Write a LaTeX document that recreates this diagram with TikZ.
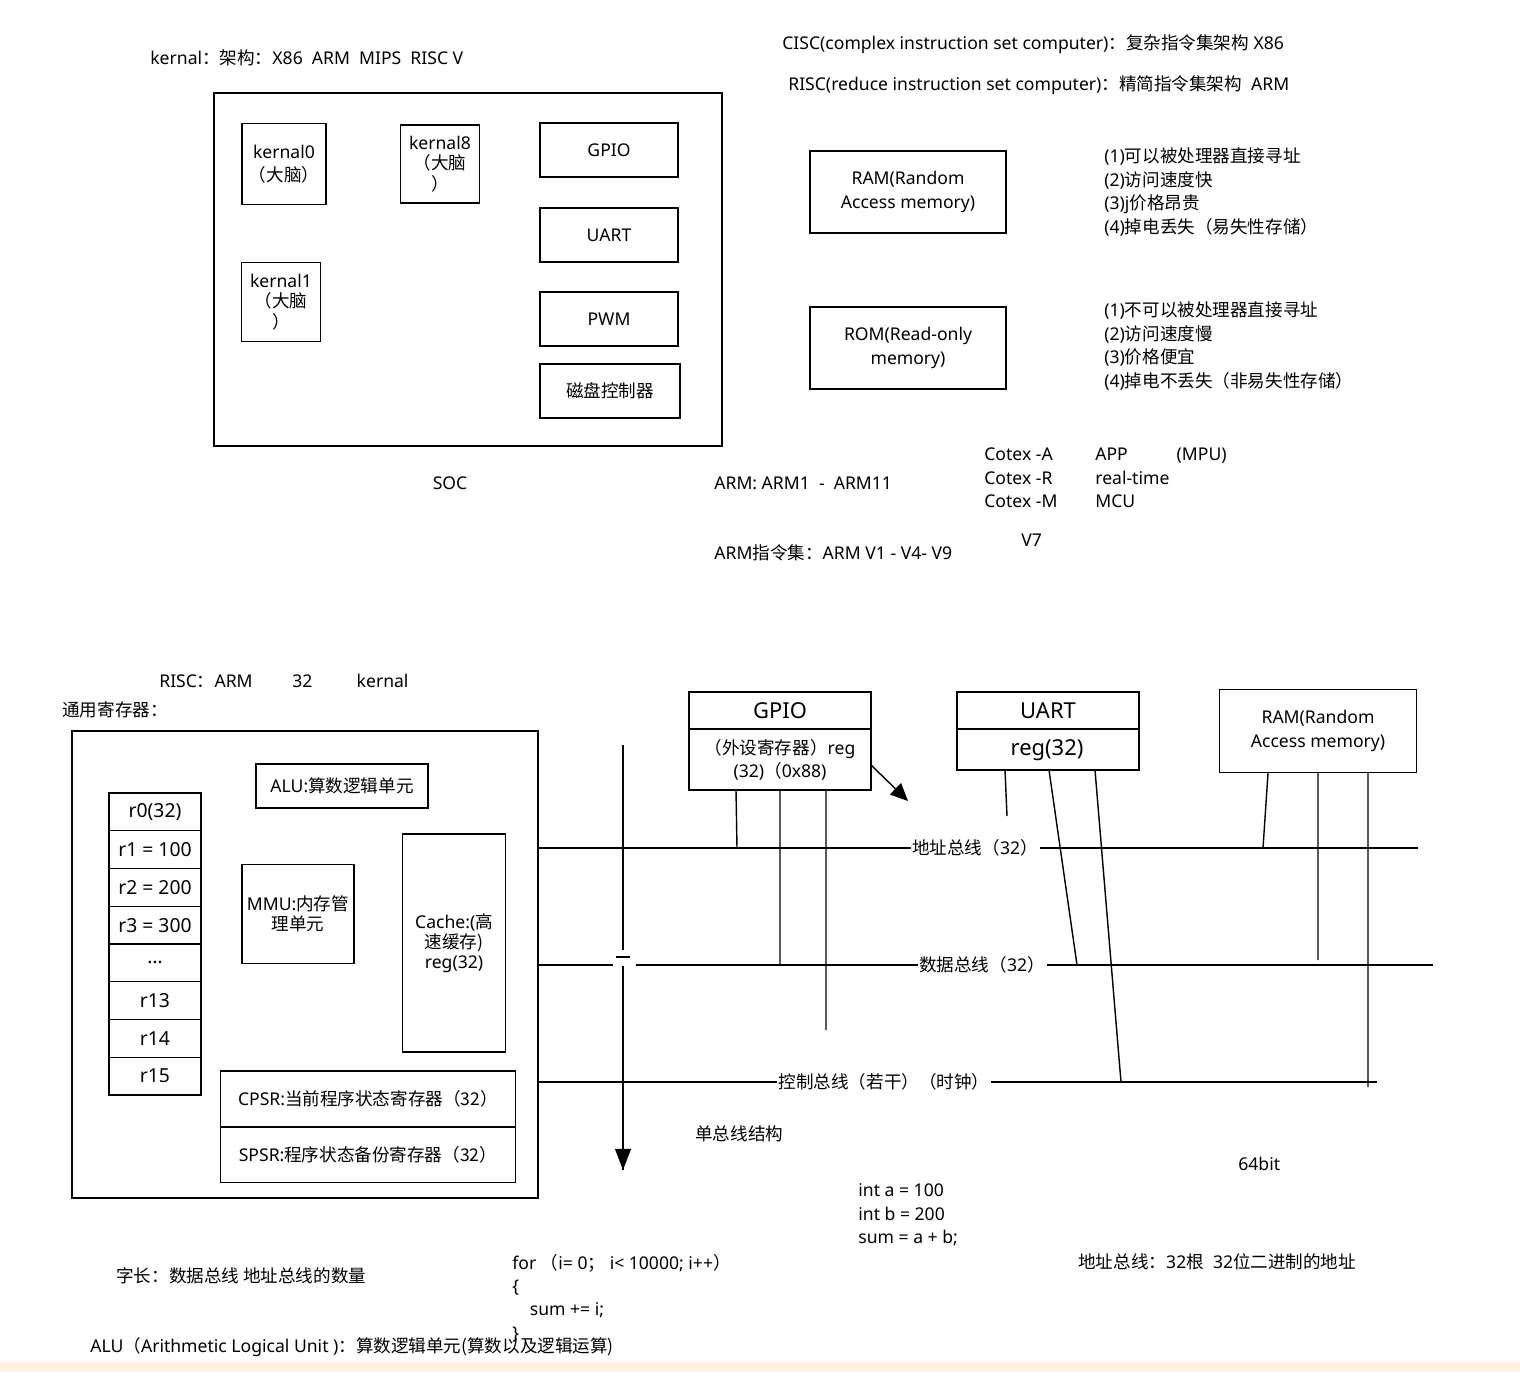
\documentclass[tikz,border=0pt]{standalone}
\usepackage{fontspec}
\setmainfont{Noto Sans}
\newfontfamily\cjk{Noto Sans CJK SC}
\usetikzlibrary{arrows.meta}
\tikzset{
  box/.style={draw=black, thick, align=center, inner sep=1pt},
  txt/.style={anchor=west, inner sep=0pt},
  bus/.style={fill=white, inner sep=1pt},
  wire/.style={black, thick}
}
\begin{document}
\begin{tikzpicture}[x=0.02cm, y=-0.02cm, font=\fontsize{10}{13.3}\selectfont]
        \useasboundingbox (0,0) rectangle (1520,1372);
        \fill[orange!12] (0,1362) rectangle (1520,1372);
        % top part
        \node[txt] at (150,58) {kernal{\cjk ：架构：}X86 \ ARM \ MIPS \ RISC V};
        \node[txt] at (782,44) {CISC(complex instruction set computer){\cjk ：复杂指令集架构} X86};
        \node[txt] at (788,85) {RISC(reduce instruction set computer){\cjk ：精简指令集架构} \ ARM};
        \draw[wire] (214,93) rectangle (722,446);
        \node[box, minimum width=84*0.02cm, minimum height=81*0.02cm] (k0) at (284,164) {kernal0\\{\cjk （大脑）}};
        \node[box, minimum width=79*0.02cm, minimum height=78*0.02cm, text width=74*0.02cm, font=\fontsize{10}{11.5}\selectfont] (k8) at (440,164) {kernal8\\{\cjk （大脑}\\{\cjk ）}};
        \node[box, minimum width=79*0.02cm, minimum height=79*0.02cm, text width=74*0.02cm, font=\fontsize{10}{11.5}\selectfont] (k1) at (281,302) {kernal1\\{\cjk （大脑}\\{\cjk ）}};
        \node[box, minimum width=138*0.02cm, minimum height=54*0.02cm] (gpio) at (609,150) {GPIO};
        \node[box, minimum width=138*0.02cm, minimum height=54*0.02cm] (uart) at (609,235) {UART};
        \node[box, minimum width=138*0.02cm, minimum height=54*0.02cm] (pwm) at (609,319) {PWM};
        \node[box, minimum width=140*0.02cm, minimum height=54*0.02cm] (disk) at (610,391) {\cjk 磁盘控制器};
        \node at (450,483) {SOC};
        \node[box, minimum width=196*0.02cm, minimum height=82*0.02cm] (ram) at (908,192) {RAM(Random\\Access memory)};
        \node[box, minimum width=196*0.02cm, minimum height=82*0.02cm] (rom) at (908,348) {ROM(Read-only\\memory)};
        \node[txt, align=left] at (1104,192) {(1){\cjk 可以被处理器直接寻址}\\(2){\cjk 访问速度快}\\(3)j{\cjk 价格昂贵}\\(4){\cjk 掉电丢失（易失性存储）}};
        \node[txt, align=left] at (1104,346) {(1){\cjk 不可以被处理器直接寻址}\\(2){\cjk 访问速度慢}\\(3){\cjk 价格便宜}\\(4){\cjk 掉电不丢失（非易失性存储）}};
        \node[txt] at (714,483) {ARM: ARM1 \ - \ ARM11};
        \node[txt, align=left] at (984,478) {Cotex -A\\Cotex -R\\Cotex -M};
        \node[txt, align=left] at (1095,478) {APP \qquad\ \ (MPU)\\real-time\\MCU};
        \node[txt] at (1021,540) {V7};
        \node[txt] at (714,553) {ARM{\cjk 指令集：}ARM V1 - V4- V9};
        % bottom part
        \node[txt] at (159,681) {RISC{\cjk ：}ARM \qquad 32 \qquad\ kernal};
        \node[txt] at (62,710) {\cjk 通用寄存器：};
        \draw[wire] (72,731) rectangle (538,1198);
        \foreach \lbl [count=\i from 0] in {{r0(32)}, {r1 = 100}, {r2 = 200}, {r3 = 300}, {…}, {r13}, {r14}, {r15}}
          \node[box, font=\fontsize{11}{13}\selectfont, minimum width=92*0.02cm, minimum height=37.75*0.02cm] (r\i) at (155,811.9+37.75*\i) {\lbl};
        \node[box, minimum width=172*0.02cm, minimum height=44*0.02cm] (alu) at (342,786) {ALU:{\cjk 算数逻辑单元}};
        \node[box, minimum width=112*0.02cm, minimum height=99*0.02cm, text width=108*0.02cm, font=\fontsize{10}{11.5}\selectfont] (mmu) at (298,914) {MMU:{\cjk 内存管}\\{\cjk 理单元}};
        \node[box, minimum width=103*0.02cm, minimum height=218*0.02cm, text width=99*0.02cm, font=\fontsize{10}{11.5}\selectfont] (cache) at (454,943) {Cache:({\cjk 高}\\{\cjk 速缓存)}\\reg(32)};
        \node[box, minimum width=295*0.02cm, minimum height=56*0.02cm] (cpsr) at (368,1099) {CPSR:{\cjk 当前程序状态寄存器（32）}};
        \node[box, minimum width=295*0.02cm, minimum height=55*0.02cm] (spsr) at (368,1155) {SPSR:{\cjk 程序状态备份寄存器（32）}};
        % buses
        \coordinate (a0) at (538,848); \coordinate (a1) at (1418,848);
        \coordinate (d0) at (538,965); \coordinate (d1) at (1433,965);
        \coordinate (c0) at (538,1082); \coordinate (c1) at (1377,1082);
        \draw[wire] (a0) -- (a1);
        \draw[wire] (d0) -- (613,965) (636,965) -- (d1);
        \draw[wire] (c0) -- (c1);
        \node[bus] at (975,848) {{\cjk 地址总线（}32{\cjk ）}};
        \node[bus] at (982,965) {{\cjk 数据总线（}32{\cjk ）}};
        \node[bus] at (884,1082) {\cjk 控制总线（若干）（时钟）};
        \coordinate (v0) at (623,745); \coordinate (v1) at (623,1170);
        \draw[wire] (v0) -- (623,950) (623,966) -- (v1);
        \draw[wire, -{Triangle[length=12pt,width=9pt]}] (623,1100) -- (v1);
        \draw[wire] (616,957) -- (630,957);
        \node[box, minimum width=182*0.02cm, minimum height=98*0.02cm] (gpio2) at (780,741) {};
        \draw[wire] (689,729) -- (871,729);
        \node at (780,711) {\fontsize{12.5}{14}\selectfont GPIO};
        \node[align=center] at (780,760) {{\cjk （外设寄存器）}reg\\(32){\cjk （}0x88)};
        \node[box, minimum width=182*0.02cm, minimum height=78*0.02cm] (uart2) at (1048,731) {};
        \draw[wire] (957,729) -- (1139,729);
        \node at (1048,711) {\fontsize{12.5}{14}\selectfont UART};
        \node at (1047,750) {\fontsize{12.5}{14}\selectfont reg(32)};
        \node[box, minimum width=197*0.02cm, minimum height=83*0.02cm] (ram2) at (1318,731) {RAM(Random\\Access memory)};
        \coordinate (p) at (908,801);
        \draw[wire, -{Triangle[length=10pt,width=9pt]}] (871,765) -- (p);
        \draw[wire] (736,790) -- (737,848) (780,790) -- (780,965) (826,790) -- (826,1030);
        \draw[wire] (1005,770) -- (1007,816) (1049,770) -- (1077,965) (1095,770) -- (1121,1082);
        \draw[wire] (1268,773) -- (1263,848) (1318,773) -- (1318,960) (1368,773) -- (1368,1087);
        \node[txt] at (695,1134) {\cjk 单总线结构};
        \node[txt] at (1238,1164) {64bit};
        \node[txt, align=left] at (858,1215) {int a = 100\\int b = 200\\sum = a + b;};
        \node[txt] at (1078,1262) {{\cjk 地址总线：}32{\cjk 根} \ 32{\cjk 位二进制的地址}};
        \node[txt] at (116,1276) {\cjk 字长：数据总线 地址总线的数量};
        \node[txt, align=left] at (512,1298) {for {\cjk （}i= 0{\cjk ；} i< 10000; i++{\cjk ）}\\\{\\\quad sum += i;\\\}};
        \node[txt] at (90,1347) {ALU{\cjk （}Arithmetic Logical Unit ){\cjk ：算数逻辑单元(算数以及逻辑运算)}};
    \end{tikzpicture}
\end{document}
